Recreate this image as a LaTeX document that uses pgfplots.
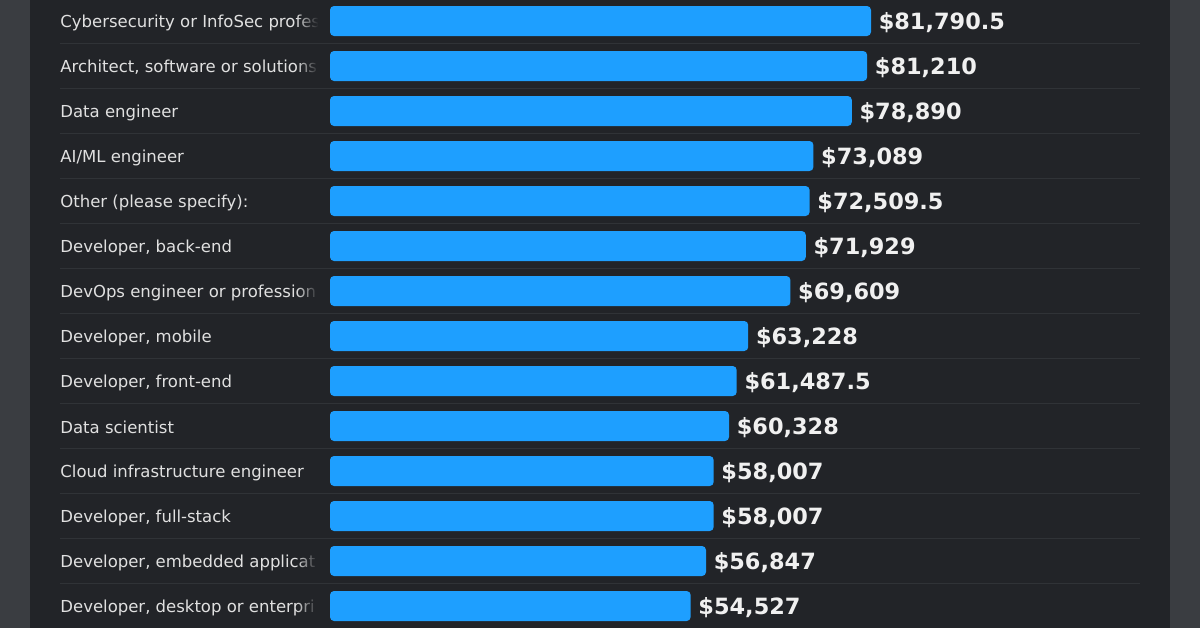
\documentclass[border=0pt]{standalone}
\usepackage{fontspec}
\setmainfont{DejaVu Sans}
\usepackage{pgfplots}
\usepackage{pgfplotstable}
\pgfplotsset{compat=1.18}
\usetikzlibrary{fadings}

\definecolor{strip}{HTML}{3A3D41}
\definecolor{panel}{HTML}{222428}
\definecolor{rule}{HTML}{303337}
\definecolor{barblue}{HTML}{1E9FFF}
\definecolor{labeltext}{HTML}{E0E0E0}
\definecolor{valtext}{HTML}{F0F0F0}

\tikzfading[name=fade in right, left color=transparent!100, right color=transparent!0]

% median salary (USD) by role, top to bottom
\pgfplotstableread{
idx salary
0  81790.5
1  81210
2  78890
3  73089
4  72509.5
5  71929
6  69609
7  63228
8  61487.5
9  60328
10 58007
11 58007
12 56847
13 54527
}\salaries

\begin{document}
\begin{tikzpicture}[x=0.5pt,y=0.5pt]
  % page background and central panel
  \fill[strip] (0,0) rectangle (1200,628);
  \fill[panel] (30,0) rectangle (1170,628);

  \begin{axis}[
    at={(0,0)}, anchor=south west,
    scale only axis, width=600pt, height=314pt,
    xmin=-49891, xmax=131531,
    ymin=-0.4667, ymax=13.4889,
    y dir=reverse,
    xbar, bar width=0.6667, bar shift=0pt,
    axis line style={draw=none},
    major tick length=0pt,
    xtick=\empty,
    ytick={0,...,13},
    yticklabels={
      {Cybersecurity or InfoSec profes},
      {Architect, software or solutions},
      {Data engineer},
      {AI/ML engineer},
      {Other (please specify):},
      {Developer, back-end},
      {DevOps engineer or profession},
      {Developer, mobile},
      {Developer, front-end},
      {Data scientist},
      {Cloud infrastructure engineer},
      {Developer, full-stack},
      {Developer, embedded applicat},
      {Developer, desktop or enterpri}},
    yticklabel style={anchor=west, inner sep=0pt, xshift=30pt, yshift=-0.8pt,
      font=\fontsize{8.25}{10}\selectfont, text=labeltext},
    clip=false,
    point meta=x,
    nodes near coords={\$\pgfmathprintnumber[fixed,precision=1,1000 sep={,},assume math mode=true]{\pgfplotspointmeta}},
    nodes near coords style={anchor=west, xshift=3.7pt, yshift=-0.8pt, inner sep=0pt,
      font=\bfseries\fontsize{11.2}{13}\selectfont, text=valtext},
  ]
    % row separators
    \pgfplotsinvokeforeach{0,...,12}{
      \draw[rule, line width=0.6pt] (axis cs:-40820,#1+0.5) -- (axis cs:122459,#1+0.5);
    }
    \addplot[fill=barblue, draw=none, rounded corners=2pt]
      table[x=salary, y=idx] {\salaries};
  \end{axis}

  % fade out the clipped role names
  \foreach \i in {0,1,6,12,13}{
    \pgfmathsetmacro{\yc}{628-21-45*\i}
    \fill[panel, path fading=fade in right] (296,\yc-13) rectangle (318,\yc+13);
    \fill[panel] (318,\yc-13) rectangle (329,\yc+13);
  }

  \pgfresetboundingbox
  \path[use as bounding box] (0,0) rectangle (1200,628);
\end{tikzpicture}
\end{document}
